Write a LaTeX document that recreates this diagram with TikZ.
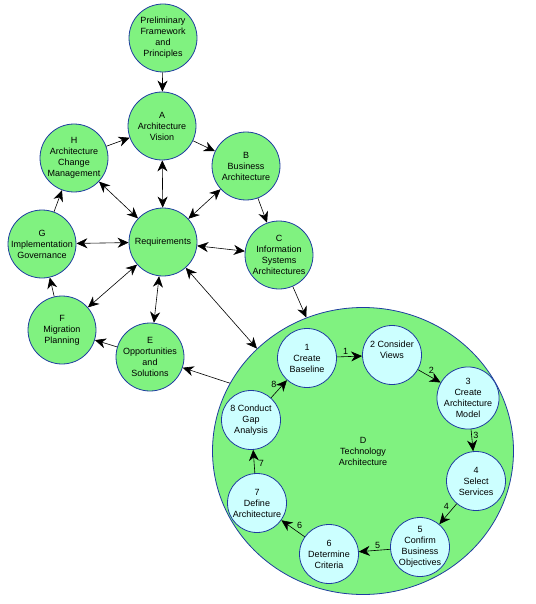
\documentclass[tikz,border=0pt]{standalone}
\usepackage{fontspec}
\setmainfont{Liberation Sans}
\usetikzlibrary{arrows.meta,shapes.geometric}

\definecolor{phasegreen}{RGB}{128,242,128}
\definecolor{stagecyan}{RGB}{204,255,255}
\definecolor{rimblue}{RGB}{30,60,160}

\begin{document}
\begin{tikzpicture}[x=1pt, y=-1pt,
    phase/.style={circle, draw=rimblue, line width=0.8pt, fill=phasegreen,
      minimum size=68pt, inner sep=0pt, align=center, font=\fontsize{9}{11}\selectfont},
    stage/.style={circle, draw=rimblue, line width=0.8pt, fill=stagecyan,
      minimum size=59pt, inner sep=0pt, align=center, font=\fontsize{9}{11}\selectfont},
    flow/.style={line width=0.6pt, -{Stealth[length=11pt, width=10pt, inset=3.5pt]}},
    twoway/.style={line width=0.6pt, {Stealth[length=11pt, width=10pt, inset=3.5pt]}-{Stealth[length=11pt, width=10pt, inset=3.5pt]}},
    num/.style={font=\fontsize{9}{11}\selectfont, inner sep=1.5pt}]
  \useasboundingbox (0, 0) rectangle (535, 604);

  % ADM phases
  \node[phase] (prelim) at (163, 38) {Preliminary\\Framework\\and\\Principles};
  \node[phase] (A) at (162, 126) {A\\Architecture\\Vision};
  \node[phase] (B) at (246, 166) {B\\Business\\Architecture};
  \node[phase] (C) at (279, 255) {C\\Information\\Systems\\Architectures};
  \node[phase] (H) at (74, 158) {H\\Architecture\\Change\\Management};
  \node[phase] (G) at (42, 244) {G\\Implementation\\Governance};
  \node[phase] (F) at (62, 330) {F\\Migration\\Planning};
  \node[phase] (E) at (150, 357) {E\\Opportunities\\and\\Solutions};
  \node[phase] (req) at (163, 242) {Requirements};

  % Phase D, enlarged
  \node[ellipse, draw=rimblue, line width=0.8pt, fill=phasegreen,
    minimum width=301pt, minimum height=287pt, align=center,
    font=\fontsize{9}{11}\selectfont] (D) at (363, 451) {D\\Technology\\Architecture};

  % Steps inside D
  \node[stage] (s1) at (307, 358) {1\\Create\\Baseline};
  \node[stage] (s2) at (392, 355) {2 Consider\\Views\\\mbox{}};
  \node[stage] (s3) at (468, 398) {3\\Create\\Architecture\\Model};
  \node[stage] (s4) at (476, 481) {4\\Select\\Services};
  \node[stage] (s5) at (420, 547) {5\\Confirm\\Business\\Objectives};
  \node[stage] (s6) at (329, 554) {6\\Determine\\Criteria};
  \node[stage] (s7) at (257, 503) {7\\Define\\Architecture};
  \node[stage] (s8) at (251, 420) {8 Conduct\\Gap\\Analysis};

  % Phase cycle
  \draw[flow] (prelim) -- (A);
  \draw[flow] (A) -- (B);
  \draw[flow] (B) -- (C);
  \draw[flow] (C) -- (D.113);
  \draw[flow] (D.153) -- (E);
  \draw[flow] (E) -- (F);
  \draw[flow] (F) -- (G);
  \draw[flow] (G) -- (H);
  \draw[flow] (H) -- (A);

  % Requirements links
  \foreach \p in {A, B, C, E, F, G, H}
    \draw[twoway] (req) -- (\p);
  \draw[twoway] (req) -- (D.136);

  % Step cycle
  \draw[flow] (s1) -- node[num, pos=0.35, above] (n1) {1} (s2);
  \draw[flow] (s2) -- node[num, pos=0.4, above right] (n2) {2} (s3);
  \draw[flow] (s3) -- node[num, pos=0.3, right] (n3) {3} (s4);
  \draw[flow] (s4) -- node[num, pos=0.35, above left] (n4) {4} (s5);
  \draw[flow] (s5) -- node[num, pos=0.4, above] (n5) {5} (s6);
  \draw[flow] (s6) -- node[num, pos=0.4, above right] (n6) {6} (s7);
  \draw[flow] (s7) -- node[num, pos=0.4, right, xshift=3pt] (n7) {7} (s8);
  \draw[flow] (s8) -- node[num, pos=0.45, above left] (n8) {8} (s1);
\end{tikzpicture}
\end{document}
